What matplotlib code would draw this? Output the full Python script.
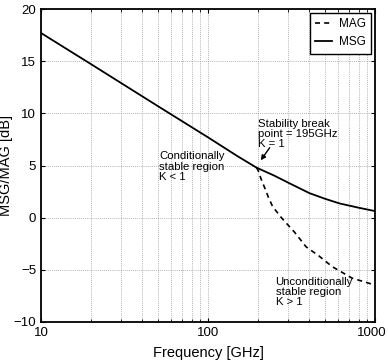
import matplotlib
matplotlib.use("Agg")
import matplotlib.pyplot as plt
import matplotlib.transforms as mtransforms
from matplotlib.ticker import FixedLocator, FixedFormatter, LogLocator, NullFormatter

plt.rcParams['font.family'] = ['Liberation Sans', 'DejaVu Sans']

msg_f = [10, 20, 50, 100, 150, 195, 250, 307, 405, 500, 611, 800, 1000]
msg_db = [17.7, 14.7, 10.7, 7.7, 5.9, 4.8, 4.02, 3.3, 2.35, 1.82, 1.37, 0.95, 0.63]

mag_f = [195, 200, 208, 218, 230, 244, 260, 275, 330, 387, 460, 555, 730, 1000]
mag_db = [4.8, 4.5, 3.7, 2.9, 1.95, 1.05, 0.5, 0.0, -1.4, -2.8, -3.65, -4.7, -5.8, -6.46]

x_ticks = [10, 100, 1000]
x_labels = ["10", "100", "1000"]
y_ticks = [-10, -5, 0, 5, 10, 15, 20]

fig = plt.figure(figsize=(3.88, 3.6), dpi=100)
ax = fig.add_axes([41/388, 1-322/360, (375-41)/388, (322-9)/360])

ax.plot(mag_f, mag_db, color='black', lw=1.2, linestyle=(0, (3, 2.5)), label='MAG')
ax.plot(msg_f, msg_db, color='black', lw=1.3, label='MSG')

ax.set_xscale('log')
ax.set_xlim(10, 1000)
ax.set_ylim(-10, 20)
ax.xaxis.set_major_locator(FixedLocator(x_ticks))
ax.xaxis.set_major_formatter(FixedFormatter(x_labels))
ax.xaxis.set_minor_locator(LogLocator(base=10, subs=range(2, 10)))
ax.xaxis.set_minor_formatter(NullFormatter())
ax.set_yticks(y_ticks)

ax.grid(True, which='both', axis='x', color='#999999', linestyle=(0, (1, 1.5)), lw=0.6)
ax.grid(True, which='major', axis='y', color='#999999', linestyle=(0, (1, 1.5)), lw=0.6)
ax.tick_params(which='both', direction='in', top=True, right=True, labelsize=9.5)
ax.tick_params(which='major', length=3)
ax.tick_params(which='minor', length=2)
for s in ax.spines.values():
    s.set_linewidth(1.3)

ax.set_xlabel('Frequency [GHz]', fontsize=10.5, labelpad=5)
ax.set_ylabel('MSG/MAG [dB]', fontsize=10.5)
ax.yaxis.set_label_coords(-0.084, 0.5)

fig.canvas.draw()
last = ax.get_xticklabels()[-1]
last.set_transform(last.get_transform() +
                   mtransforms.ScaledTranslation(-3/100, 0, fig.dpi_scale_trans))

leg = ax.legend(loc='upper right', fontsize=8.5, frameon=True, fancybox=False,
                edgecolor='black', framealpha=1, handlelength=1.45,
                handletextpad=0.6, borderaxespad=0.3, borderpad=0.45,
                labelspacing=0.55)
leg.get_frame().set_linewidth(1.0)

ax.text(200, 9.5, 'Stability break\npoint = 195GHz\nK = 1', fontsize=8.2,
        va='top', ha='left', linespacing=1.03)
ax.annotate('', xy=(207, 5.5), xytext=(234, 6.7),
            arrowprops=dict(arrowstyle='-|>', color='black', lw=1.0,
                            mutation_scale=7, shrinkA=0, shrinkB=0))
ax.text(51, 6.35, 'Conditionally\nstable region\nK < 1', fontsize=8.2,
        va='top', ha='left', linespacing=1.03)
ax.text(254, -5.65, 'Unconditionally\nstable region\nK > 1', fontsize=8.2,
        va='top', ha='left', linespacing=1.03)

fig.savefig('out.png', dpi=100)
